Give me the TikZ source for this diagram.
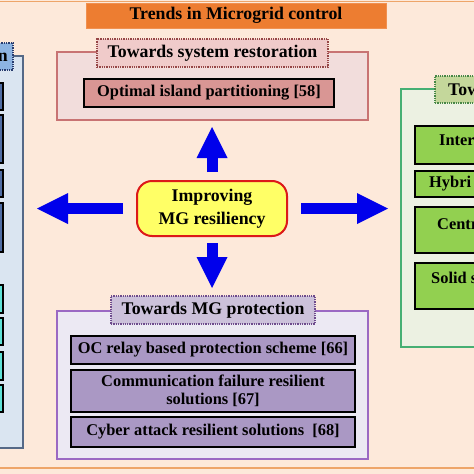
\documentclass[tikz,border=0pt]{standalone}
\usepackage{fontspec}
\setmainfont{Liberation Serif}
\usetikzlibrary{arrows.meta}
\definecolor{bg}{RGB}{253,233,218}
\definecolor{lineorange}{RGB}{238,165,105}
\definecolor{titleorange}{RGB}{237,125,49}
\definecolor{arrowblue}{RGB}{0,0,235}
\definecolor{resfill}{RGB}{242,221,220}
\definecolor{resdraw}{RGB}{200,115,115}
\definecolor{restag}{RGB}{240,203,202}
\definecolor{restagdraw}{RGB}{150,70,70}
\definecolor{resitem}{RGB}{217,150,148}
\definecolor{profill}{RGB}{236,233,243}
\definecolor{prodraw}{RGB}{155,105,195}
\definecolor{protag}{RGB}{204,193,218}
\definecolor{protagdraw}{RGB}{110,75,140}
\definecolor{proitem}{RGB}{170,152,196}
\definecolor{leftfill}{RGB}{218,229,241}
\definecolor{leftdraw}{RGB}{85,105,135}
\definecolor{lefttag}{RGB}{141,180,226}
\definecolor{lefttagdraw}{RGB}{40,60,110}
\definecolor{leftdark}{RGB}{80,110,165}
\definecolor{leftcyan}{RGB}{95,225,215}
\definecolor{rightfill}{RGB}{236,241,226}
\definecolor{rightdraw}{RGB}{70,175,115}
\definecolor{righttag}{RGB}{196,215,155}
\definecolor{righttagdraw}{RGB}{70,135,70}
\definecolor{greenitem}{RGB}{146,208,80}
\definecolor{cyellow}{RGB}{255,255,102}
\definecolor{cred}{RGB}{220,25,25}
\tikzset{
  hfont/.style={font=\fontsize{17.8}{23}\selectfont\bfseries},
  bfont/.style={font=\fontsize{16.4}{18}\selectfont\bfseries},
  panelbox/.style={draw, line width=1.3pt, inner sep=0pt},
  tagbox/.style={draw, densely dotted, line width=1.3pt, inner sep=0pt, hfont},
  itembox/.style={draw=black, line width=1.5pt, inner sep=0pt, bfont, align=center},
  parttext/.style={inner sep=0pt, anchor=west},
  barrow/.style={draw=arrowblue, line width=11pt, -{Triangle[length=31pt,width=31pt,line width=0pt]}},
}
\begin{document}
\begin{tikzpicture}[x=1pt,y=-1pt]
\useasboundingbox (0,0) rectangle (474,474);
\clip (0,0) rectangle (474,474);
\fill[bg] (0,0) rectangle (474,474);
% frame lines
\coordinate (tl) at (0,1.5); \coordinate (tr) at (474,1.5);
\coordinate (bl) at (0,468); \coordinate (br) at (474,468);
\draw[lineorange, line width=1.5pt] (tl) -- (tr);
\draw[lineorange, line width=2pt] (bl) -- (br);
% title
\node[fill=titleorange, draw=titleorange!85!white, line width=0.6pt, minimum width=300pt, minimum height=25pt, inner sep=0pt, hfont] (title) at (236,15.5) {Trends in Microgrid control};

% left panel (cut off)
\node[panelbox, draw=leftdraw, fill=leftfill, minimum width=43pt, minimum height=392pt] (lpanel) at (1.5,252) {};
\node[tagbox, draw=lefttagdraw, fill=lefttag, minimum width=73pt, minimum height=27pt] (ltag) at (-23.5,56.5) {};
\node[parttext, hfont, anchor=east] (ltagtext) at (8,57) {n};
\node[itembox, fill=leftdark, minimum width=43pt, minimum height=27pt] (l1) at (-18.5,96.5) {};
\node[itembox, fill=leftdark, minimum width=43pt, minimum height=48pt] (l2) at (-18.5,139) {};
\node[itembox, fill=leftdark, minimum width=43pt, minimum height=27pt] (l3) at (-18.5,183.5) {};
\node[itembox, fill=leftdark, minimum width=43pt, minimum height=49pt] (l4) at (-18.5,227.5) {};
\node[itembox, fill=leftcyan, minimum width=43pt, minimum height=28pt] (l5) at (-18.5,299) {};
\node[itembox, fill=leftcyan, minimum width=43pt, minimum height=27pt] (l6) at (-18.5,331.5) {};
\node[itembox, fill=leftcyan, minimum width=43pt, minimum height=28pt] (l7) at (-18.5,366) {};
\node[itembox, fill=leftcyan, minimum width=43pt, minimum height=27pt] (l8) at (-18.5,398.5) {};

% right panel (cut off)
\node[panelbox, draw=rightdraw, fill=rightfill, minimum width=99pt, minimum height=258pt] (rpanel) at (450.5,218) {};
\node[tagbox, draw=righttagdraw, fill=righttag, minimum width=85pt, minimum height=27pt] (rtag) at (477.5,89.5) {};
\node[parttext, hfont] (rtagtext) at (448,90) {Tow};
\node[itembox, fill=greenitem, minimum width=105pt, minimum height=38pt] (r1) at (467.5,145) {};
\node[itembox, fill=greenitem, minimum width=105pt, minimum height=26pt] (r2) at (467.5,184) {};
\node[itembox, fill=greenitem, minimum width=105pt, minimum height=46pt] (r3) at (467.5,230) {};
\node[itembox, fill=greenitem, minimum width=105pt, minimum height=46pt] (r4) at (467.5,286) {};
\node[parttext, bfont] (r1text) at (439,140) {Inter};
\node[parttext, bfont] (r2text) at (429,184) {Hybri};
\node[parttext, bfont] (r3text) at (437,224) {Centr};
\node[parttext, bfont] (r4text) at (431,278) {Solid s};

% restoration panel
\node[panelbox, draw=resdraw, fill=resfill, minimum width=311pt, minimum height=68pt] (rest) at (212.5,86) {};
\node[tagbox, draw=restagdraw, fill=restag, minimum width=231pt, minimum height=28pt] (resttag) at (212.5,53) {Towards system restoration};
\node[itembox, fill=resitem, minimum width=250pt, minimum height=28pt] (opt) at (209,93) {Optimal island partitioning [58]};

% protection panel
\node[panelbox, draw=prodraw, fill=profill, minimum width=311pt, minimum height=148pt] (prot) at (212.5,385) {};
\node[tagbox, draw=protagdraw, fill=protag, minimum width=204pt, minimum height=28pt] (prottag) at (213,310) {Towards MG protection};
\node[itembox, fill=proitem, minimum width=284pt, minimum height=28pt] (oc) at (213,350) {OC relay based protection scheme [66]};
\node[itembox, fill=proitem, minimum width=284pt, minimum height=42pt] (comm) at (213,391) {Communication failure resilient\\solutions [67]};
\node[itembox, fill=proitem, minimum width=284pt, minimum height=30pt] (cyber) at (213,432) {Cyber attack resilient solutions\ \ [68]};

% centre
\node[draw=cred, fill=cyellow, line width=2pt, rounded corners=15pt, minimum width=150pt, minimum height=55pt, inner sep=0pt, hfont, align=center] (c) at (212,208.5) {Improving\\MG resiliency};

% arrows
\coordinate (upT) at (212,127);
\coordinate (downT) at (212,288);
\coordinate (leftT) at (37,208.5);
\coordinate (rightT) at (388,208.5);
\draw[barrow] ([yshift=8pt]c.north) -- (upT);
\draw[barrow] ([yshift=-6pt]c.south) -- (downT);
\draw[barrow] ([xshift=-13pt]c.west) -- (leftT);
\draw[barrow] ([xshift=13pt]c.east) -- (rightT);
\end{tikzpicture}
\end{document}
